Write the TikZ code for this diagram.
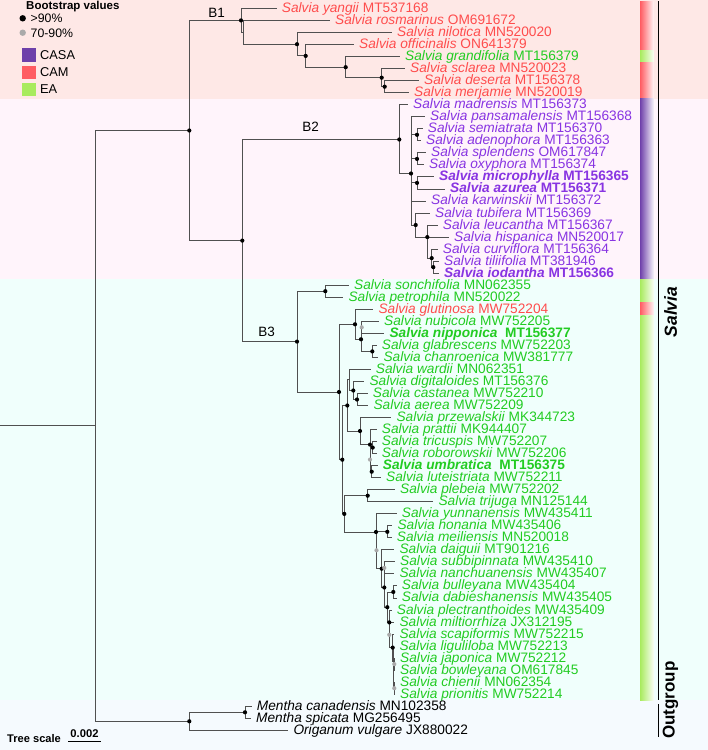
\documentclass[tikz,border=0pt]{standalone}
\usepackage{fontspec}
\setmainfont{Liberation Sans}
\definecolor{tred}{RGB}{255,77,77}
\definecolor{tgreen}{RGB}{34,204,34}
\definecolor{tpurple}{RGB}{136,52,226}
\definecolor{brc}{RGB}{80,80,80}
\definecolor{bgpink}{RGB}{254,232,230}
\definecolor{bglav}{RGB}{255,244,251}
\definecolor{bgcyan}{RGB}{240,255,252}
\definecolor{bgblue}{RGB}{245,250,254}
\definecolor{casa}{RGB}{110,64,170}
\definecolor{cam}{RGB}{255,92,98}
\definecolor{ea}{RGB}{168,235,94}
\definecolor{gdotc}{RGB}{170,170,170}
\tikzset{
  br/.style={draw=brc, line width=0.9pt},
  leaf/.style={anchor=west, inner xsep=5pt, inner ysep=0pt, text height=9pt, text depth=1pt, font=\fontsize{13.7}{14}\selectfont},
  blab/.style={inner sep=0pt, font=\fontsize{13.5}{14}\selectfont},
  legt/.style={anchor=west, inner sep=0pt, font=\fontsize{12.8}{13}\selectfont},
}
\newcommand\lv[6]{\node[leaf,text=#4] (#1) at ({#2-5},#3) {\textit{Salvia #5} #6};}
\begin{document}
\begin{tikzpicture}[x=1pt,y=-1pt]
\useasboundingbox (0,0) rectangle (708,750);
% backgrounds
\fill[bgpink] (0,0) rectangle (708,98.7);
\fill[bglav] (0,98.7) rectangle (708,279.2);
\fill[bgcyan] (0,279.2) rectangle (708,700.2);
\fill[bgblue] (0,700.2) rectangle (708,750);
% right bars
\foreach \ya/\yb/\c in {1/50.6/cam, 50.6/62.6/ea, 62.6/98.7/cam, 98.7/279.2/casa, 279.2/302.5/ea, 302.5/315.3/cam, 315.3/700.2/ea}
  \shade[left color=\c, middle color=\c!75!white, right color=\c!8!white] (640,\ya) rectangle (653.5,\yb);
\coordinate (sv1) at (658.3,1); \coordinate (sv2) at (658.3,700);
\draw[line width=1.2pt] (sv1) -- (sv2);
\coordinate (og1) at (658.3,704); \coordinate (og2) at (658.3,737);
\draw[line width=1.2pt] (og1) -- (og2);
\node[rotate=90, inner sep=0pt, font=\bfseries\itshape\fontsize{17.5}{18}\selectfont] (salv) at (670.5,312) {Salvia};
\node[rotate=90, inner sep=0pt, font=\bfseries\fontsize{17}{18}\selectfont] (outg) at (670.5,700) {Outgroup};
% legend
\node[anchor=west, inner sep=0pt, font=\bfseries\fontsize{11.5}{12}\selectfont] (bsv) at (26,6.5) {Bootstrap values};
\fill[black] (22.7,18.3) circle (3.2pt);
\node[legt, font=\fontsize{12.3}{13}\selectfont] (l90) at (30.5,18.5) {>90\%};
\fill[gdotc] (22.7,32.7) circle (3.2pt);
\node[legt, font=\fontsize{12.3}{13}\selectfont] (l70) at (30.5,32.9) {70-90\%};
\fill[casa] (22.3,48.3) rectangle (35.7,62.3);
\fill[cam] (22.3,65.7) rectangle (35.7,79);
\fill[ea] (22.3,82.7) rectangle (35.7,96);
\node[legt] (lcasa) at (40,55.5) {CASA};
\node[legt] (lcam) at (40,72.5) {CAM};
\node[legt] (lea) at (40,89.5) {EA};
% tree scale
\node[anchor=west, inner sep=0pt, font=\bfseries\fontsize{11.1}{12}\selectfont] (ts) at (7,738.3) {Tree scale};
\node[inner sep=0pt, font=\bfseries\fontsize{11.2}{12}\selectfont] (tsv) at (84.5,734) {0.002};
\coordinate (sc1) at (68.3,741.7); \coordinate (sc2) at (100.7,741.7);
\draw[line width=1.1pt] (sc1) -- (sc2);
% leaves
\lv{yangii}{281.7}{8.5}{tred}{yangii}{MT537168}
\lv{rosmarinus}{335}{20.53}{tred}{rosmarinus}{OM691672}
\lv{nilotica}{397}{32.56}{tred}{nilotica}{MN520020}
\lv{officinalis}{359}{44.59}{tred}{officinalis}{ON641379}
\lv{grandifolia}{405}{56.62}{tgreen}{grandifolia}{MT156379}
\lv{sclarea}{410}{68.65}{tred}{sclarea}{MN520023}
\lv{deserta}{424}{80.68}{tred}{deserta}{MT156378}
\lv{merjamie}{414}{92.71}{tred}{merjamie}{MN520019}
\lv{madrensis}{413}{104.74}{tpurple}{madrensis}{MT156373}
\lv{pansamalensis}{430}{116.77}{tpurple}{pansamalensis}{MT156368}
\lv{semiatrata}{427.7}{128.8}{tpurple}{semiatrata}{MT156370}
\lv{adenophora}{426}{140.83}{tpurple}{adenophora}{MT156363}
\lv{splendens}{431}{152.86}{tpurple}{splendens}{OM617847}
\lv{oxyphora}{429}{164.89}{tpurple}{oxyphora}{MT156374}
\node[leaf,text=tpurple] (microphylla) at (434,176.92) {\bfseries\textit{Salvia microphylla} MT156365};
\node[leaf,text=tpurple] (azurea) at (445,188.95) {\bfseries\textit{Salvia azurea} MT156371};
\lv{karwinskii}{431}{200.98}{tpurple}{karwinskii}{MT156372}
\lv{tubifera}{435}{213.01}{tpurple}{tubifera}{MT156369}
\lv{leucantha}{442.7}{225.04}{tpurple}{leucantha}{MT156367}
\lv{hispanica}{454}{237.07}{tpurple}{hispanica}{MN520017}
\lv{curviflora}{442.7}{249.1}{tpurple}{curviflora}{MT156364}
\lv{tiliifolia}{444}{261.13}{tpurple}{tiliifolia}{MT381946}
\node[leaf,text=tpurple] (iodantha) at (439,273.16) {\bfseries\textit{Salvia iodantha} MT156366};
\lv{sonchifolia}{354}{285.19}{tgreen}{sonchifolia}{MN062355}
\lv{petrophila}{348.3}{297.22}{tgreen}{petrophila}{MN520022}
\lv{glutinosa}{378.3}{309.25}{tred}{glutinosa}{MW752204}
\lv{nubicola}{384}{321.28}{tgreen}{nubicola}{MW752205}
\node[leaf,text=tgreen] (nipponica) at (384.3,333.31) {\bfseries\textit{Salvia nipponica}\ \ MT156377};
\lv{glabrescens}{381.7}{345.34}{tgreen}{glabrescens}{MW752203}
\lv{chanroenica}{383.3}{357.37}{tgreen}{chanroenica}{MW381777}
\lv{wardii}{375.7}{369.4}{tgreen}{wardii}{MN062351}
\lv{digitaloides}{369.3}{381.43}{tgreen}{digitaloides}{MT156376}
\lv{castanea}{372.7}{393.46}{tgreen}{castanea}{MW752210}
\lv{aerea}{373.3}{405.49}{tgreen}{aerea}{MW752209}
\lv{przewalskii}{396.3}{417.52}{tgreen}{przewalskii}{MK344723}
\lv{prattii}{381.7}{429.55}{tgreen}{prattii}{MK944407}
\lv{tricuspis}{381.7}{441.58}{tgreen}{tricuspis}{MW752207}
\lv{roborowskii}{381.7}{453.61}{tgreen}{roborowskii}{MW752206}
\node[leaf,text=tgreen] (umbratica) at (377.7,465.64) {\bfseries\textit{Salvia umbratica}\ \ MT156375};
\lv{luteistriata}{386}{477.67}{tgreen}{luteistriata}{MW752211}
\lv{plebeia}{400}{489.7}{tgreen}{plebeia}{MW752202}
\lv{trijuga}{438.3}{501.73}{tgreen}{trijuga}{MN125144}
\lv{yunnanensis}{401.7}{513.76}{tgreen}{yunnanensis}{MW435411}
\lv{honania}{397.3}{525.79}{tgreen}{honania}{MW435406}
\lv{meiliensis}{396.7}{537.82}{tgreen}{meiliensis}{MN520018}
\lv{daiguii}{399.3}{549.85}{tgreen}{daiguii}{MT901216}
\lv{subbipinnata}{400}{561.88}{tgreen}{subbipinnata}{MW435410}
\lv{nanchuanensis}{399.3}{573.91}{tgreen}{nanchuanensis}{MW435407}
\lv{bulleyana}{401.7}{585.94}{tgreen}{bulleyana}{MW435404}
\lv{dabieshanensis}{401.7}{597.97}{tgreen}{dabieshanensis}{MW435405}
\lv{plectranthoides}{396.7}{610.0}{tgreen}{plectranthoides}{MW435409}
\lv{miltiorrhiza}{399.3}{622.03}{tgreen}{miltiorrhiza}{JX312195}
\lv{scapiformis}{399.3}{634.06}{tgreen}{scapiformis}{MW752215}
\lv{liguliloba}{399.3}{646.09}{tgreen}{liguliloba}{MW752213}
\lv{japonica}{400}{658.12}{tgreen}{japonica}{MW752212}
\lv{bowleyana}{400}{670.15}{tgreen}{bowleyana}{OM617845}
\lv{chienii}{400}{682.18}{tgreen}{chienii}{MN062354}
\lv{prionitis}{400}{694.21}{tgreen}{prionitis}{MW752214}
\node[leaf] (canadensis) at (251.7,706.24) {\textit{Mentha canadensis} MN102358};
\node[leaf] (spicata) at (251,718.27) {\textit{Mentha spicata} MG256495};
\node[leaf] (vulgare) at (288.3,730.3) {\textit{Origanum vulgare} JX880022};
% internal nodes
\coordinate (R0) at (0,425.9);
\coordinate (R) at (95,425.9);
\coordinate (S) at (189.3,130.5);
\coordinate (B1) at (241,20.4);
\coordinate (B1b) at (243.3,32.4);
\coordinate (N3) at (297,44.2);
\coordinate (N4) at (305.7,55.9);
\coordinate (N5) at (345.7,67.2);
\coordinate (N6) at (381.7,77.7);
\coordinate (N7) at (384.7,86.7);
\coordinate (B23) at (242.3,240.6);
\coordinate (B2) at (399.3,139.5);
\coordinate (B2r) at (411,173.5);
\coordinate (SA) at (417,134.8);
\coordinate (SO) at (417,158.9);
\coordinate (MA) at (417,182.9);
\coordinate (TU) at (415.7,225);
\coordinate (LH) at (427.3,237.07);
\coordinate (CT) at (431.7,258.1);
\coordinate (TI) at (433.3,267.15);
\coordinate (B3) at (297,341.6);
\coordinate (SP) at (325.3,291.2);
\coordinate (L) at (339,392);
\coordinate (G) at (355,324.3);
\coordinate (NN) at (361.7,327.3);
\coordinate (NG) at (361,339.3);
\coordinate (GC) at (372.3,351.4);
\coordinate (W) at (349.5,379.9);
\coordinate (DG) at (353.3,390.5);
\coordinate (CA) at (357,399.5);
\coordinate (W2) at (347.3,405.5);
\coordinate (PZ) at (360,431);
\coordinate (P) at (370,444.6);
\coordinate (TR) at (372.7,447.6);
\coordinate (UL) at (371.7,471.7);
\coordinate (TRUL) at (370,459.6);
\coordinate (M) at (342.3,459.7);
\coordinate (Y) at (344.3,513.9);
\coordinate (PT) at (367.7,495.7);
\coordinate (Yu) at (376,532);
\coordinate (HM) at (387.3,531.8);
\coordinate (Z) at (376.5,550.3);
\coordinate (D) at (381.7,568.7);
\coordinate (E) at (384.3,587.5);
\coordinate (SN) at (384.3,567.9);
\coordinate (F) at (387.3,607.2);
\coordinate (BD) at (393.3,591.96);
\coordinate (G2) at (389.3,622.4);
\coordinate (H2) at (389.3,634.8);
\coordinate (I2) at (392.7,647.6);
\coordinate (J2) at (393.3,661.1);
\coordinate (K2) at (393.8,676.2);
\coordinate (JB) at (394.3,664.1);
\coordinate (CP) at (394.3,688.2);
\coordinate (O) at (189.3,721.3);
\coordinate (MN) at (245,712.3);
% branches between internal nodes
\draw[br] (R0) -- (R);
\foreach \p/\c in {R/S, R/O, S/B1, S/B23, B1/B1b, B1b/N3, N3/N4, N4/N5, N5/N6, N6/N7,
  B23/B2, B23/B3, B2/B2r, B2r/SA, B2r/SO, B2r/MA, B2r/TU, TU/LH, LH/CT, CT/TI,
  B3/SP, B3/L, L/G, L/M, G/NG, NG/NN, NG/GC, M/W2, M/Y, W2/W, W2/PZ, W/DG, DG/CA,
  PZ/P, P/TRUL, TRUL/TR, TRUL/UL, Y/PT, Y/Yu, Yu/Z, Z/HM, Z/D, D/E, E/SN, E/F,
  F/BD, F/G2, G2/H2, H2/I2, I2/J2, J2/K2, K2/JB, K2/CP, O/MN}
  \draw[br] (\p) |- (\c);
% branches to leaves
\foreach \p/\c in {B1/yangii, B1b/rosmarinus, N3/nilotica, N4/officinalis, N5/grandifolia,
  N6/sclarea, N7/deserta, N7/merjamie, B2/madrensis, B2r/pansamalensis, SA/semiatrata,
  SA/adenophora, SO/splendens, SO/oxyphora, MA/microphylla, MA/azurea, B2r/karwinskii,
  TU/tubifera, LH/leucantha, LH/hispanica, CT/curviflora, TI/tiliifolia, TI/iodantha,
  SP/sonchifolia, SP/petrophila, G/glutinosa, NN/nubicola, NN/nipponica, GC/glabrescens,
  GC/chanroenica, W/wardii, DG/digitaloides, CA/castanea, CA/aerea, PZ/przewalskii,
  P/prattii, TR/tricuspis, TR/roborowskii, UL/umbratica, UL/luteistriata, PT/plebeia,
  PT/trijuga, Yu/yunnanensis, HM/honania, HM/meiliensis, D/daiguii, SN/subbipinnata,
  SN/nanchuanensis, BD/bulleyana, BD/dabieshanensis, G2/plectranthoides, H2/miltiorrhiza,
  I2/scapiformis, J2/liguliloba, JB/japonica, JB/bowleyana, CP/chienii, CP/prionitis,
  MN/canadensis, MN/spicata, O/vulgare}
  \draw[br] (\p) |- (\c.west);
% bootstrap dots
\foreach \n in {S, B1, N3, N4, N5, N6, N7, B23, B2, B2r, SA, SO, MA, TU, LH, CT, TI,
  B3, SP, L, G, NG, GC, DG, CA, W2, PZ, P, TR, UL, M, Y, PT, Yu, HM, D, E, F, BD, G2, I2, O, MN}
  \fill[black] (\n) circle (2.1pt);
\foreach \n in {NN, TRUL, Z, SN, H2, JB, CP}
  \fill[gdotc] (\n) circle (2.1pt);
% clade labels
\node[blab] (lb1) at (216.7,13.3) {B1};
\node[blab] (lb2) at (310.7,126.7) {B2};
\node[blab] (lb3) at (266.7,332.3) {B3};
\end{tikzpicture}
\end{document}
